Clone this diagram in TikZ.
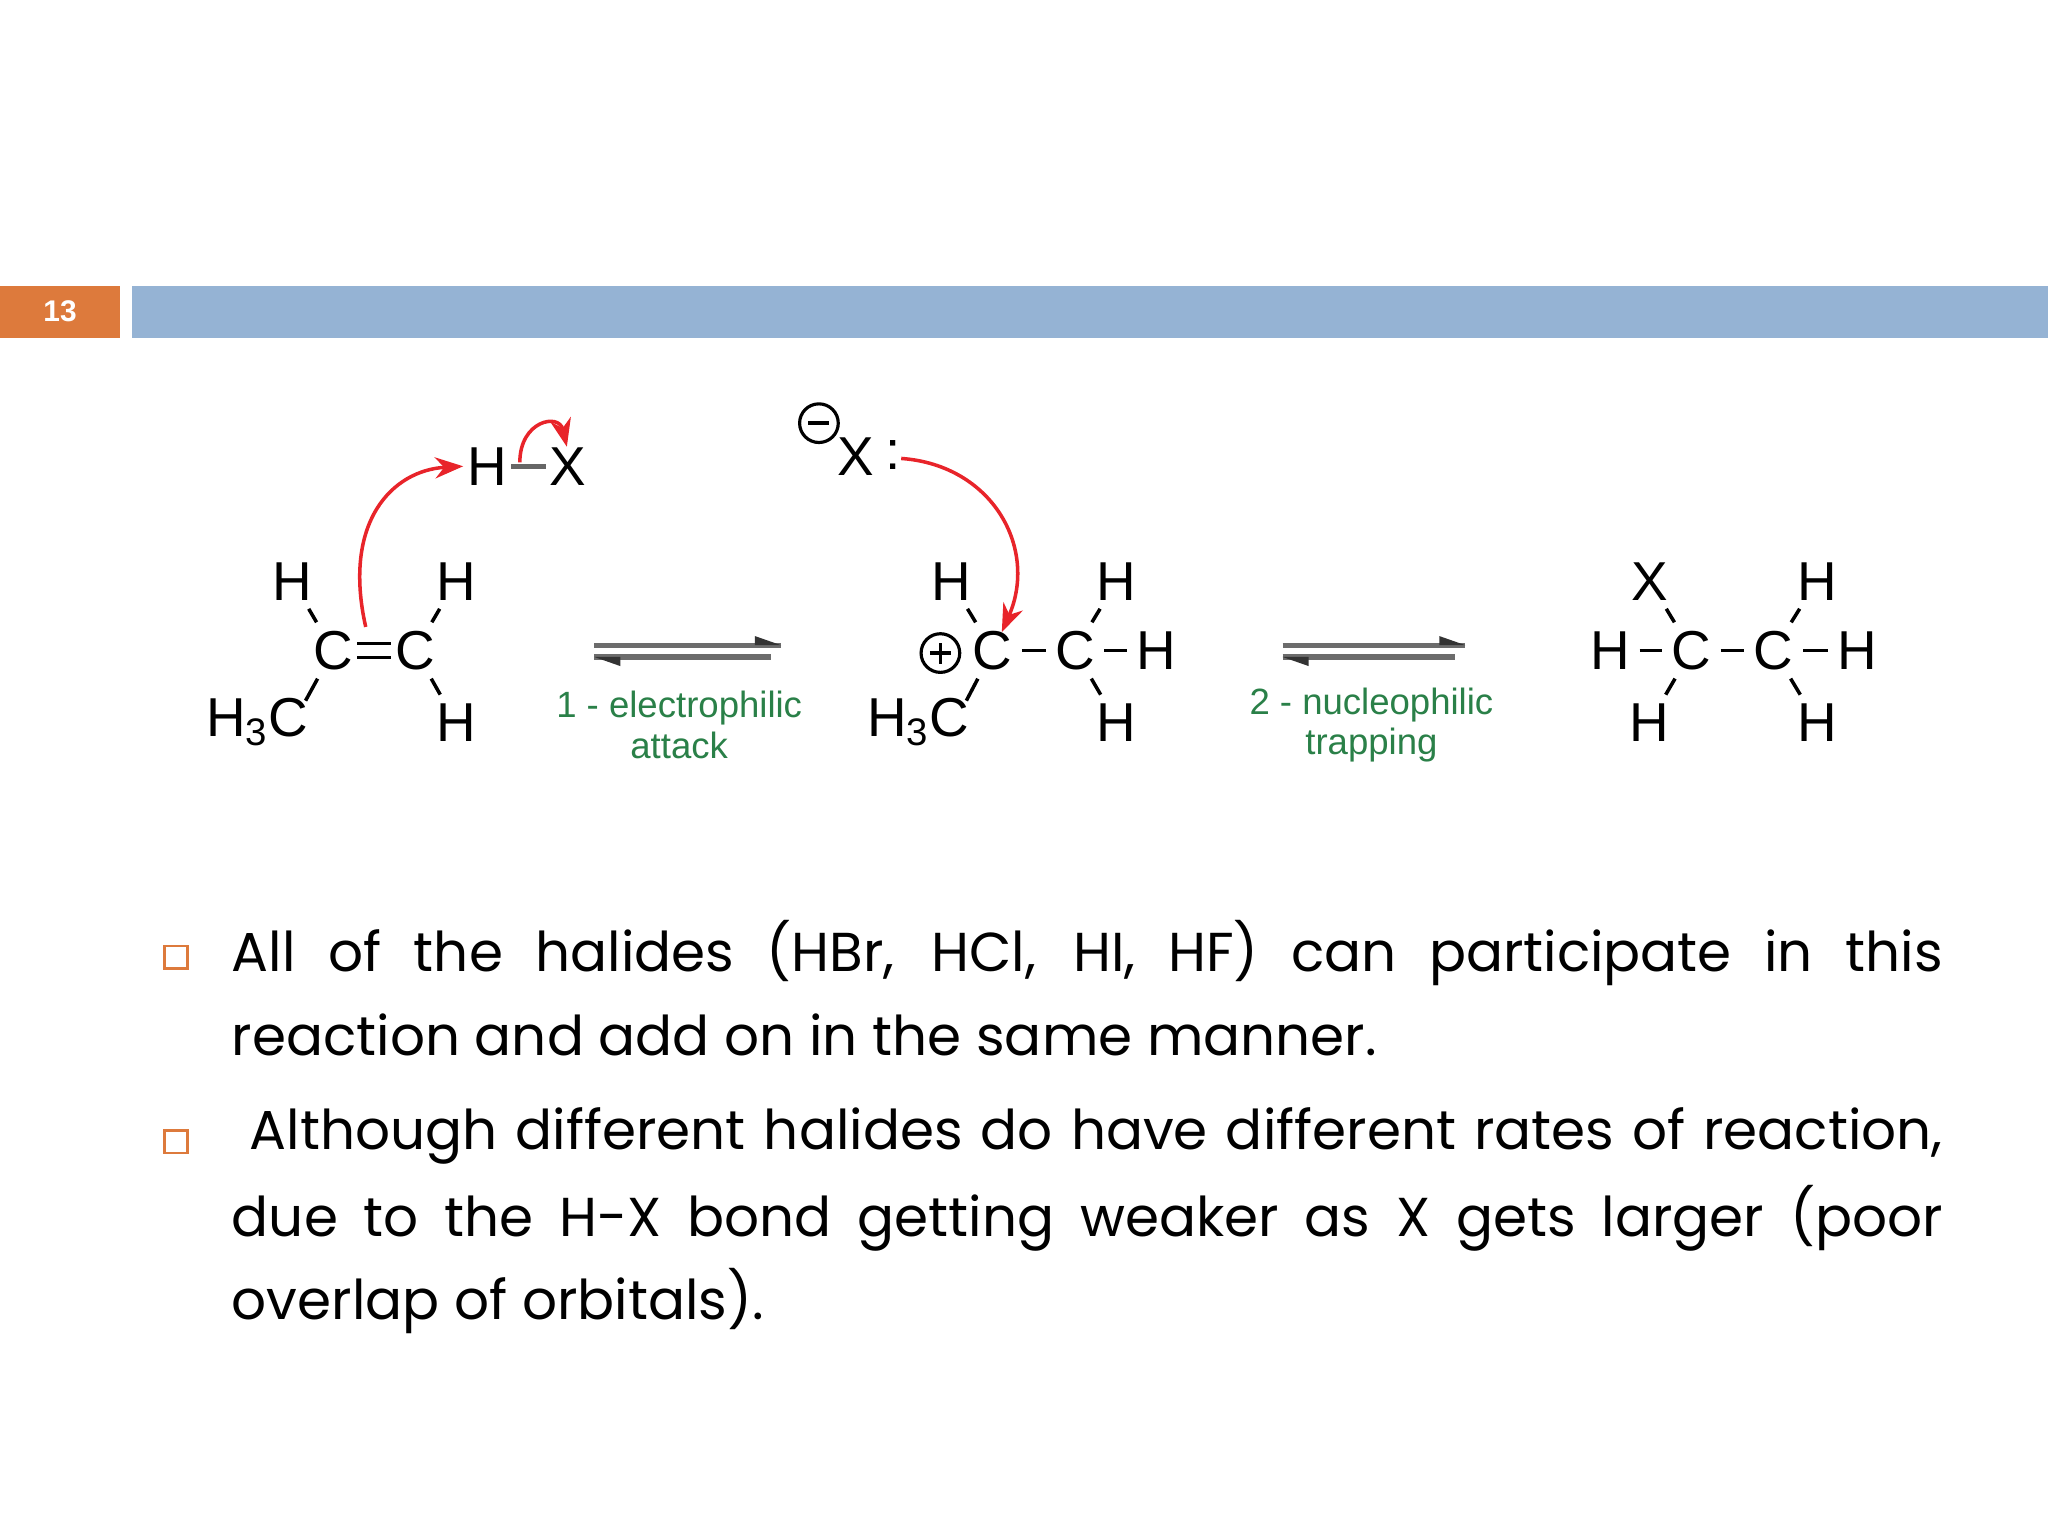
\documentclass[tikz,border=0pt]{standalone}
\usepackage{fontspec}
\setmainfont{Poppins}
\newfontfamily\chemfont{Liberation Sans}
\usetikzlibrary{arrows.meta}
\definecolor{orng}{HTML}{DD7A3C}
\definecolor{barblue}{HTML}{95B3D4}
\definecolor{lblgreen}{HTML}{2A8048}
\definecolor{arrred}{HTML}{E8242A}
\tikzset{
 atm/.style={font=\chemfont\fontsize{15.6}{16}\selectfont, inner sep=1pt},
 bd/.style={line width=1pt, shorten <=1.5pt, shorten >=1.5pt},
 lbl/.style={font=\chemfont\fontsize{10.4}{11.5}\selectfont, text=lblgreen, align=center},
 eq/.style={draw=gray!85!black, line width=1.5pt},
 eqh/.style={fill=black!80},
 redarr/.style={draw=arrred, line width=1pt, -{Stealth[length=8pt,width=6pt]}},
 body/.style={font=\fontsize{15.6}{20}\selectfont, anchor=west, inner sep=0pt},
 bull/.style={draw=orng, line width=0.8pt, minimum size=6.5pt, inner sep=0pt},
 chg/.style={circle, draw, line width=0.9pt, minimum size=11pt, inner sep=0pt},
}
\begin{document}
\begin{tikzpicture}[x=0.01306cm,y=-0.01306cm]
\useasboundingbox (0,0) rectangle (1568,1176);
\fill[white] (0,0) rectangle (1568,1176);
% header
\fill[orng] (0,219) rectangle (92,259);
\node[text=white, font=\chemfont\bfseries\fontsize{8.5}{10}\selectfont] (num) at (46,238) {13};
\fill[barblue] (101,219) rectangle (1568,259);
% molecule 1
\node[atm] (h1) at (224,445) {H};
\node[atm] (h2) at (349,445) {H};
\node[atm] (c1) at (255,498) {C};
\node[atm] (c2) at (318,498) {C};
\node[atm] (m1) at (197,553) {H\textsubscript{3}C};
\node[atm] (h3) at (349,553) {H};
\coordinate (m1c) at (232,540);
\draw[bd] (h1) -- (c1); \draw[bd] (h2) -- (c2); \draw[bd] (c2) -- (h3);
\draw[bd] (c1) -- (m1c);
\draw[line width=1pt] ([yshift=2pt]c1.east) -- ([yshift=2pt]c2.west);
\draw[line width=1pt] ([yshift=-2pt]c1.east) -- ([yshift=-2pt]c2.west);
\node[atm] (hx) at (373,357) {H};
\node[atm] (xx) at (435,357) {X};
\draw[line width=1.4pt, draw=gray!80!black] (hx) -- (xx);
\coordinate (r1s) at (280,480);
\draw[redarr] (r1s) .. controls (262,400) and (300,360) .. (hx.west);
\coordinate (r2s) at (398,354);
\coordinate (r2e) at (434,342);
\draw[redarr] (r2s) .. controls (398,322) and (428,316) .. (r2e);
% arrows 1
\coordinate (e1a) at (455,494); \coordinate (e1b) at (598,494);
\coordinate (e1c) at (455,503); \coordinate (e1d) at (590,503);
\draw[eq] (e1a) -- (e1b); \draw[eq] (e1c) -- (e1d);
\fill[eqh] (e1b) -- ++(-20,-7) -- ++(0,7) -- cycle;
\fill[eqh] (e1c) -- ++(20,7) -- ++(0,-7) -- cycle;
\node[lbl] (l1) at (520,555) {1 - electrophilic\\attack};
% intermediate
\node[atm] (h4) at (728,445) {H};
\node[atm] (h5) at (855,445) {H};
\node[atm] (c3) at (760,498) {C};
\node[atm] (c4) at (823,498) {C};
\node[atm] (h6) at (885,498) {H};
\node[atm] (m2) at (703,553) {H\textsubscript{3}C};
\node[atm] (h7) at (855,553) {H};
\coordinate (m2c) at (738,540);
\node[chg] (plus) at (720,500) {};
\draw[line width=0.9pt] ([xshift=-3pt]plus.center) -- ([xshift=3pt]plus.center) ([yshift=-3pt]plus.center) -- ([yshift=3pt]plus.center);
\draw[bd] (h4) -- (c3); \draw[bd] (h5) -- (c4); \draw[bd] (c4) -- (h7);
\draw[bd] (c3) -- (m2c); \draw[bd] (c3) -- (c4); \draw[bd] (c4) -- (h6);
\node[chg] (minus) at (627,324) {};
\draw[line width=1.2pt] ([xshift=-3pt]minus.center) -- ([xshift=3pt]minus.center);
\node[atm] (x2) at (655,350) {X};
\node[atm] (col) at (684,348) {:};
\coordinate (r3s) at (690,351);
\coordinate (r3e) at (767,484);
\draw[redarr] (r3s) .. controls (760,356) and (795,420) .. (r3e);
% arrows 2
\coordinate (e2a) at (982,494); \coordinate (e2b) at (1122,494);
\coordinate (e2c) at (982,503); \coordinate (e2d) at (1114,503);
\draw[eq] (e2a) -- (e2b); \draw[eq] (e2c) -- (e2d);
\fill[eqh] (e2b) -- ++(-20,-7) -- ++(0,7) -- cycle;
\fill[eqh] (e2c) -- ++(20,7) -- ++(0,-7) -- cycle;
\node[lbl] (l2) at (1050,555) {2 - nucleophilic\\trapping};
% product
\node[atm] (x3) at (1263,445) {X};
\node[atm] (h8) at (1391,445) {H};
\node[atm] (h9) at (1233,498) {H};
\node[atm] (c5) at (1295,498) {C};
\node[atm] (c6) at (1358,498) {C};
\node[atm] (h10) at (1422,498) {H};
\node[atm] (h11) at (1263,553) {H};
\node[atm] (h12) at (1391,553) {H};
\draw[bd] (x3) -- (c5); \draw[bd] (h9) -- (c5); \draw[bd] (c5) -- (c6);
\draw[bd] (c5) -- (h11); \draw[bd] (h8) -- (c6); \draw[bd] (c6) -- (h10); \draw[bd] (c6) -- (h12);
% bullets
\node[bull] (b1) at (135,733) {};
\node[bull] (b2) at (135,874) {};
\node[body] (t1) at (177,730) {\makebox[1310\dimexpr0.3716pt\relax][s]{All of the halides (HBr, HCl, HI, HF) can participate in this}};
\node[body] (t2) at (177,792) {reaction and add on in the same manner.};
\node[body] (t3) at (177,870) {\makebox[1310\dimexpr0.3716pt\relax][s]{\ Although different halides do have different rates of reaction,}};
\node[body] (t4) at (177,933) {\makebox[1310\dimexpr0.3716pt\relax][s]{due to the H-X bond getting weaker as X gets larger (poor}};
\node[body] (t5) at (177,996) {overlap of orbitals).};
\end{tikzpicture}
\end{document}
